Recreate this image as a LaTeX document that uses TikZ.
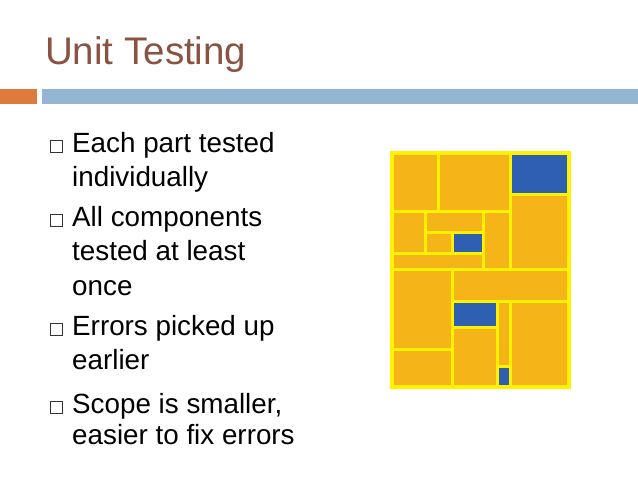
\documentclass[tikz,border=0pt]{standalone}
\usepackage{fontspec}
\setmainfont{Liberation Sans}
\begin{document}
\begin{tikzpicture}[x=1pt,y=-1pt,
  txt/.style={anchor=base west,inner sep=0pt,font=\fontsize{27.8}{32}\selectfont},
  bx/.style={draw=black!80,line width=0.9pt,minimum size=12pt,inner sep=0pt},
  sep/.style={draw=yellow,line width=3pt}]
\definecolor{titlec}{HTML}{8A5240}
\definecolor{barO}{HTML}{DE7A3B}
\definecolor{barB}{HTML}{94B6D3}
\definecolor{tileO}{HTML}{F5B417}
\definecolor{tileB}{HTML}{2F5FB0}
\useasboundingbox (0,0) rectangle (638,478);
\fill[white] (0,0) rectangle (638,478);
\node[anchor=base west,inner sep=0pt,text=titlec,font=\fontsize{38.5}{44}\selectfont] (title) at (45,65) {Unit Testing};
\fill[barO] (0,89) rectangle (37,104);
\fill[barB] (42,89) rectangle (638,104);
% bullets
\foreach \y/\t/\b in {153/{Each part tested}/1,187/{individually}/0,227/{All components}/1,261/{tested at least}/0,296/{once}/0,336/{Errors picked up}/1,370/{earlier}/0,414/{Scope is smaller,}/1,445/{easier to fix errors}/0}{
  \node[txt] at (72,\y) {\t};
  \ifnum\b=1 \node[bx] at (56,\y-7) {};\fi
}
% grid
\fill[tileO] (392,153) rectangle (569,387);
\fill[tileB] (510,153) rectangle (569,195);
\fill[tileB] (452,233) rectangle (483,254);
\fill[tileB] (452,302) rectangle (497,328);
\fill[tileB] (497,367) rectangle (510,387);
\draw[sep] (438,153) -- (438,212);
\draw[sep] (510,153) -- (510,270);
\draw[sep] (510,302) -- (510,387);
\draw[sep] (510,195) -- (569,195);
\draw[sep] (392,212) -- (510,212);
\draw[sep] (425,212) -- (425,254);
\draw[sep] (483,212) -- (483,270);
\draw[sep] (425,233) -- (483,233);
\draw[sep] (452,233) -- (452,254);
\draw[sep] (392,254) -- (483,254);
\draw[sep] (392,270) -- (569,270);
\draw[sep] (452,270) -- (452,387);
\draw[sep] (452,302) -- (569,302);
\draw[sep] (497,302) -- (497,387);
\draw[sep] (452,328) -- (497,328);
\draw[sep] (392,350) -- (452,350);
\draw[sep] (497,367) -- (510,367);
\draw[sep,line width=3.5pt] (392,153) rectangle (569,387);
\end{tikzpicture}
\end{document}
